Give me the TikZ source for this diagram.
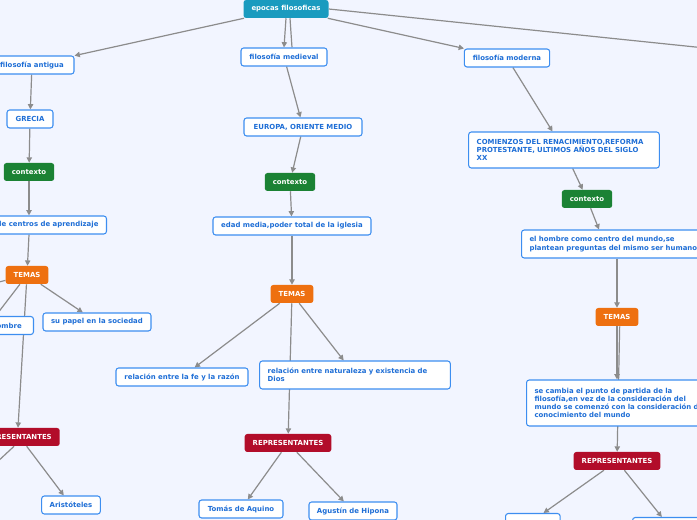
\documentclass[tikz,border=0pt]{standalone}
\usepackage{fontspec}
\setmainfont{DejaVu Sans}
\usetikzlibrary{backgrounds,arrows.meta}
\definecolor{bg}{HTML}{F2F5FF}
\definecolor{bord}{HTML}{3D8EF0}
\definecolor{txt}{HTML}{1E6ED6}
\definecolor{teal}{HTML}{1A9BBF}
\definecolor{grn}{HTML}{1B8234}
\definecolor{org}{HTML}{EE7010}
\definecolor{red}{HTML}{B20D2A}
\definecolor{ln}{HTML}{8C8C8C}
\tikzset{
 base/.style={rounded corners=2pt,font=\fontsize{5.2}{6.2}\selectfont\bfseries,inner xsep=6pt,inner ysep=0pt,minimum height=13.5pt},
 wb/.style={base,draw=bord,line width=0.8pt,fill=white,text=txt},
 wb2/.style={wb,align=left,inner ysep=3pt},
 cb/.style={base,fill=#1,text=white},
 ar/.style={draw=ln,line width=0.9pt,-{Triangle[length=4pt,width=4pt]}},
 pl/.style={draw=ln,line width=0.9pt}
}
\begin{document}
\begin{tikzpicture}[x=0.75pt,y=-0.75pt]
\useasboundingbox (0,0) rectangle (697,520);
\clip (0,0) rectangle (697,520);
\node[cb=teal,minimum width=63.75pt] (ep) at (286,9) {epocas filosoficas};
\node[wb,minimum width=63pt] (ant) at (32,65) {filosofía antigua};
\node[wb,minimum width=34.5pt] (gre) at (30,119) {GRECIA};
\node[cb=grn,minimum width=36.75pt] (c1) at (29,172) {contexto};
\node[wb,anchor=east] (cen) at (107,225) {de centros de aprendizaje};
\node[cb=org,minimum width=31.5pt] (t1) at (27,275) {TEMAS};
\node[wb,anchor=east,minimum width=40pt,align=right] (hom) at (34,325.5) {hombre};
\node[wb,minimum width=81pt] (pap) at (97,322) {su papel en la sociedad};
\node[cb=red,anchor=east] (r1) at (60,437) {RESENTANTES};
\node[wb,minimum width=44pt] (ari) at (71,505) {Aristóteles};

\node[wb,minimum width=64.5pt] (med) at (284,57) {filosofía medieval};
\node[wb,minimum width=88.5pt] (eur) at (303,127) {EUROPA, ORIENTE MEDIO};
\node[cb=grn,minimum width=36.75pt] (c2) at (290,182) {contexto};
\node[wb,minimum width=118.5pt] (eda) at (292,226) {edad media,poder total de la iglesia};
\node[cb=org,minimum width=31.5pt] (t2) at (292,294) {TEMAS};
\node[wb,minimum width=99pt] (fe) at (182,377) {relación entre la fe y la razón};
\node[wb2,minimum width=143pt,minimum height=21pt,text width=131pt] (nat) at (355,375) {relación entre naturaleza y existencia de\\Dios};
\node[cb=red,minimum width=65pt] (r2) at (288,443) {REPRESENTANTES};
\node[wb,minimum width=63pt] (tom) at (241,509) {Tomás de Aquino};
\node[wb,minimum width=66pt] (agu) at (353,511) {Agustín de Hipona};

\node[wb,minimum width=64pt] (mod) at (507,58) {filosofía moderna};
\node[wb2,minimum width=143pt,minimum height=27pt,text width=131pt] (com) at (564,150) {COMIENZOS DEL RENACIMIENTO,REFORMA\\PROTESTANTE, ULTIMOS AÑOS DEL SIGLO\\XX};
\node[cb=grn,minimum width=36.75pt] (c3) at (587,199) {contexto};
\node[wb2,anchor=west,minimum height=21pt,text width=140pt] (hc) at (521,244) {el hombre como centro del mundo,se\\plantean preguntas del mismo ser humano};
\node[cb=org,minimum width=31pt] (t3) at (617,317) {TEMAS};
\node[wb2,anchor=west,minimum height=34.5pt,text width=140pt] (sc) at (526,403) {se cambia el punto de partida de la\\filosofía,en vez de la consideración del\\mundo se comenzó con la consideración del\\conocimiento del mundo};
\node[cb=red,minimum width=65pt] (r3) at (617,461) {REPRESENTANTES};
\node[wb,minimum width=41pt,anchor=north west] (b1) at (505,513) {};
\node[wb,minimum width=60pt,anchor=north west] (b2) at (632,517) {};

\begin{scope}[on background layer]
\fill[bg] (0,0) rectangle (697,520);
\coordinate (oR) at (705,48);
\coordinate (oL1) at (-5,283);
\coordinate (oL2) at (-6,318);
\coordinate (oL3) at (-5,464);
\draw[ar] (ep) -- (ant);
\draw[ar] (ep.south) -- (med.north);
\draw[pl] ([xshift=3pt]ep.south) -- ([xshift=6pt]med.north);
\draw[ar] (ep) -- (mod);
\draw[pl] (ep.east) -- (oR);
\draw[ar] (ant) -- (gre);
\draw[ar] (gre) -- (c1);
\draw[ar] (c1) -- (c1|-cen.north);
\draw[ar] (c1|-cen.south) -- (t1);
\draw[pl] (t1) -- (oL1);
\draw[pl] (t1) -- (oL2);
\draw[ar] (t1) -- (pap);
\draw[ar] (t1) -- (r1.north -| 18,0);
\draw[pl] (r1) -- (oL3);
\draw[ar] ([xshift=-25pt]r1.south east) -- (ari);
\draw[ar] (med) -- (eur);
\draw[ar] (eur) -- (c2);
\draw[ar] (c2) -- (eda);
\draw[ar] (eda) -- (t2);
\draw[ar] (t2) -- (fe);
\draw[ar] (t2) -- (nat);
\draw[ar] (t2) -- (r2);
\draw[ar] (r2) -- (tom);
\draw[ar] (r2) -- (agu);
\draw[ar] (mod) -- (com);
\draw[ar] (com) -- (c3);
\draw[ar] (c3) -- ([xshift=9pt]c3|-hc.north);
\draw[ar] (t3|-hc.south) -- (t3);
\draw[ar] (t3) -- (t3|-sc.north);
\draw[ar] ([xshift=2pt]t3.south) -- (r3);
\draw[ar] (r3) -- ([xshift=8pt]b1.north);
\draw[ar] (r3) -- ([xshift=-8pt]b2.north);
\end{scope}
\end{tikzpicture}
\end{document}
